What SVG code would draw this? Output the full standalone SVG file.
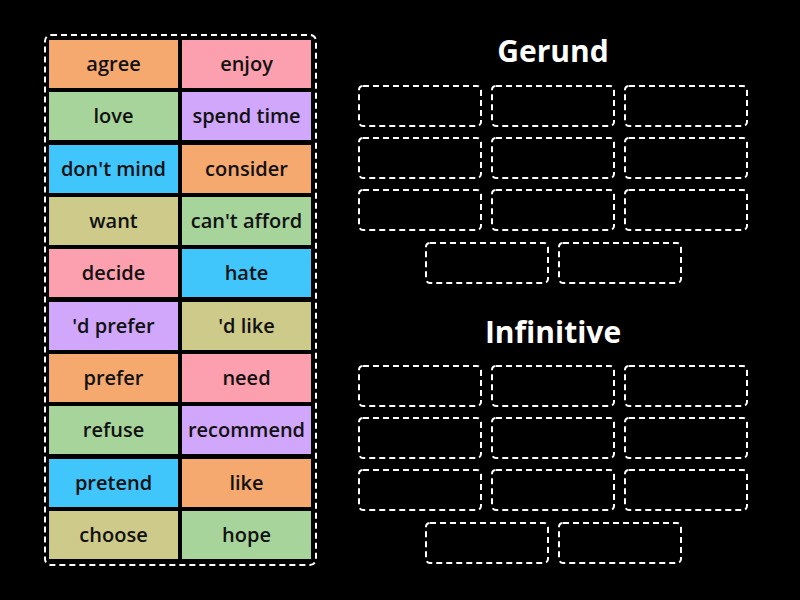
<svg xmlns="http://www.w3.org/2000/svg" width="800" height="600" viewBox="0 0 800 600">
<style>
.t{font-family:"Open Sans","Noto Sans",sans-serif;font-size:20px;font-weight:600;fill:#111;text-anchor:middle}
.h{font-family:"Open Sans","Noto Sans",sans-serif;font-size:30px;font-weight:700;fill:#fff;text-anchor:middle}
.d{fill:none;stroke:#fff;stroke-width:2;stroke-dasharray:6,4}
.o{fill:#f6a96f}.p{fill:#fc9fae}.g{fill:#a7d49b}.v{fill:#d0a7fb}.c{fill:#40c6fb}.y{fill:#cdca8a}
</style>
<rect width="800" height="600" fill="#000"/>
<rect x="45" y="35" width="271" height="530" rx="6" class="d"/>
<g id="tiles">
<g id="n1"><rect x="49" y="40" width="129" height="48" class="o"/><text x="113.5" y="71" class="t">agree</text></g>
<g id="n2"><rect x="182" y="40" width="129" height="48" class="p"/><text x="246.5" y="71" class="t">enjoy</text></g>
<g id="n3"><rect x="49" y="92" width="129" height="48" class="g"/><text x="113.5" y="123" class="t">love</text></g>
<g id="n4"><rect x="182" y="92" width="129" height="48" class="v"/><text x="246.5" y="123" class="t">spend time</text></g>
<g id="n5"><rect x="49" y="145" width="129" height="48" class="c"/><text x="113.5" y="176" class="t">don't mind</text></g>
<g id="n6"><rect x="182" y="145" width="129" height="48" class="o"/><text x="246.5" y="176" class="t">consider</text></g>
<g id="n7"><rect x="49" y="197" width="129" height="48" class="y"/><text x="113.5" y="228" class="t">want</text></g>
<g id="n8"><rect x="182" y="197" width="129" height="48" class="g"/><text x="246.5" y="228" class="t">can't afford</text></g>
<g id="n9"><rect x="49" y="249" width="129" height="48" class="p"/><text x="113.5" y="280" class="t">decide</text></g>
<g id="n10"><rect x="182" y="249" width="129" height="48" class="c"/><text x="246.5" y="280" class="t">hate</text></g>
<g id="n11"><rect x="49" y="302" width="129" height="48" class="v"/><text x="113.5" y="333" class="t">'d prefer</text></g>
<g id="n12"><rect x="182" y="302" width="129" height="48" class="y"/><text x="246.5" y="333" class="t">'d like</text></g>
<g id="n13"><rect x="49" y="354" width="129" height="48" class="o"/><text x="113.5" y="385" class="t">prefer</text></g>
<g id="n14"><rect x="182" y="354" width="129" height="48" class="p"/><text x="246.5" y="385" class="t">need</text></g>
<g id="n15"><rect x="49" y="406" width="129" height="48" class="g"/><text x="113.5" y="437" class="t">refuse</text></g>
<g id="n16"><rect x="182" y="406" width="129" height="48" class="v"/><text x="246.5" y="437" class="t">recommend</text></g>
<g id="n17"><rect x="49" y="459" width="129" height="48" class="c"/><text x="113.5" y="490" class="t">pretend</text></g>
<g id="n18"><rect x="182" y="459" width="129" height="48" class="o"/><text x="246.5" y="490" class="t">like</text></g>
<g id="n19"><rect x="49" y="511" width="129" height="48" class="y"/><text x="113.5" y="542" class="t">choose</text></g>
<g id="n20"><rect x="182" y="511" width="129" height="48" class="g"/><text x="246.5" y="542" class="t">hope</text></g>
</g>
<g id="gerund">
<text x="553" y="62" class="h">Gerund</text>
<rect x="359" y="86" width="122" height="40" rx="4" class="d"/><rect x="492" y="86" width="122" height="40" rx="4" class="d"/><rect x="625" y="86" width="122" height="40" rx="4" class="d"/>
<rect x="359" y="138" width="122" height="40" rx="4" class="d"/><rect x="492" y="138" width="122" height="40" rx="4" class="d"/><rect x="625" y="138" width="122" height="40" rx="4" class="d"/>
<rect x="359" y="190" width="122" height="40" rx="4" class="d"/><rect x="492" y="190" width="122" height="40" rx="4" class="d"/><rect x="625" y="190" width="122" height="40" rx="4" class="d"/>
<rect x="426" y="243" width="122" height="40" rx="4" class="d"/><rect x="559" y="243" width="122" height="40" rx="4" class="d"/>
</g>
<g id="infinitive">
<text x="553" y="343" class="h">Infinitive</text>
<rect x="359" y="366" width="122" height="40" rx="4" class="d"/><rect x="492" y="366" width="122" height="40" rx="4" class="d"/><rect x="625" y="366" width="122" height="40" rx="4" class="d"/>
<rect x="359" y="418" width="122" height="40" rx="4" class="d"/><rect x="492" y="418" width="122" height="40" rx="4" class="d"/><rect x="625" y="418" width="122" height="40" rx="4" class="d"/>
<rect x="359" y="470" width="122" height="40" rx="4" class="d"/><rect x="492" y="470" width="122" height="40" rx="4" class="d"/><rect x="625" y="470" width="122" height="40" rx="4" class="d"/>
<rect x="426" y="523" width="122" height="40" rx="4" class="d"/><rect x="559" y="523" width="122" height="40" rx="4" class="d"/>
</g>
</svg>
